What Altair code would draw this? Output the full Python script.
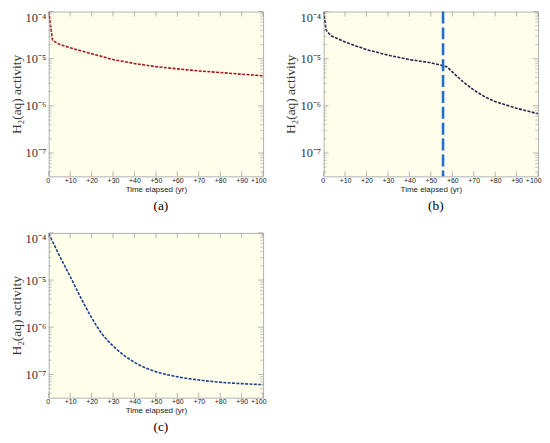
import altair as alt
import pandas as pd

# panel (a)
t_a = [0, 1.8, 5, 10, 15, 20, 30, 40, 50, 60, 70, 80, 90, 100]
h2_a = [1.0e-4, 2.46e-5, 2.02e-5, 1.71e-5, 1.47e-5, 1.28e-5, 9.6e-6, 7.9e-6,
        6.8e-6, 6.1e-6, 5.5e-6, 5.1e-6, 4.7e-6, 4.35e-6]

# panel (b)
t_b = [0, 1.2, 3.3, 10, 20, 30, 40, 50, 55.7, 57.6, 60, 65, 70, 75, 80, 90, 100]
h2_b = [1.0e-4, 4.0e-5, 3.1e-5, 2.26e-5, 1.56e-5, 1.19e-5, 9.6e-6, 8.2e-6,
        7.1e-6, 6.7e-6, 5.27e-6, 3.25e-6, 2.17e-6, 1.57e-6, 1.23e-6, 8.9e-7, 6.8e-7]
event_t = [55.7]

# panel (c)
t_c = [0, 5, 10, 15, 20, 25, 30, 35, 40, 45, 50, 60, 70, 80, 90, 100]
h2_c = [9.7e-5, 3.3e-5, 1.2e-5, 4.2e-6, 1.6e-6, 7.1e-7, 4.0e-7, 2.56e-7,
        1.8e-7, 1.38e-7, 1.14e-7, 8.9e-8, 7.6e-8, 6.8e-8, 6.35e-8, 6.05e-8]

x_ticks = [0, 10, 20, 30, 40, 50, 60, 70, 80, 90, 100]
decades = [1e-4, 1e-5, 1e-6, 1e-7]
y_domain = [3.2e-8, 1e-4]
minor_ticks = [m * d for d in [1e-5, 1e-6, 1e-7, 1e-8] for m in range(2, 10)
               if m * d > y_domain[0]]

W, H = 216, 166
TICK = "#a0a0a0"
SERIF = "Liberation Serif, Times New Roman, serif"
SANS = "Liberation Sans, Arial, sans-serif"

y_labels = ("'10' + (datum.value > 5e-5 ? '⁻⁴' : datum.value > 5e-6 ? '⁻⁵'"
            " : datum.value > 5e-7 ? '⁻⁶' : '⁻⁷')")

x_enc = alt.X(
    "t:Q",
    scale=alt.Scale(domain=[0, 100], nice=False),
    axis=alt.Axis(
        values=x_ticks,
        labelExpr="datum.value == 0 ? '0' : '+' + datum.value",
        ticks=False, tickSize=0, domain=False, grid=False,
        labelFont=SANS, labelFontSize=7, labelColor="#1a1a1a",
        labelPadding=0, labelFlush=True, labelFlushOffset=3, labelOverlap=False,
        title="Time elapsed (yr)", titleFont=SANS, titleFontSize=8,
        titleFontWeight="normal", titleColor="#1a1a1a", titlePadding=2,
    ),
)
y_enc = alt.Y(
    "h2:Q",
    scale=alt.Scale(type="log", domain=y_domain, nice=False),
    axis=alt.Axis(
        values=decades, labelExpr=y_labels,
        ticks=False, tickSize=0, domain=False, grid=False,
        labelFont=SERIF, labelFontSize=12.5, labelColor="#333",
        labelPadding=3, labelFlush=True,
        title="H₂(aq) activity", titleFont=SERIF, titleFontSize=13.5,
        titleFontWeight="normal", titleColor="#333", titlePadding=2,
    ),
)


def panel(t, h2, color, caption, extra=None, interp="linear"):
    df = pd.DataFrame({"t": t, "h2": h2})
    line = alt.Chart(df).mark_line(
        color=color, strokeWidth=1.6, strokeDash=[3, 1.4], clip=True,
        interpolate=interp,
    ).encode(x=x_enc, y=y_enc)

    xt = alt.Chart(pd.DataFrame({"t": x_ticks}))
    yt = alt.Chart(pd.DataFrame({"h2": decades}))
    ym = alt.Chart(pd.DataFrame({"h2": minor_ticks}))
    ticks = [
        xt.mark_rule(color=TICK, strokeWidth=0.8).encode(x=x_enc, y=alt.value(H), y2=alt.value(H - 5)),
        xt.mark_rule(color=TICK, strokeWidth=0.8).encode(x=x_enc, y=alt.value(0), y2=alt.value(5)),
        yt.mark_rule(color=TICK, strokeWidth=0.8).encode(y=y_enc, x=alt.value(0), x2=alt.value(5)),
        yt.mark_rule(color=TICK, strokeWidth=0.8).encode(y=y_enc, x=alt.value(W), x2=alt.value(W - 5)),
        ym.mark_rule(color=TICK, strokeWidth=0.6).encode(y=y_enc, x=alt.value(0), x2=alt.value(3)),
        ym.mark_rule(color=TICK, strokeWidth=0.6).encode(y=y_enc, x=alt.value(W), x2=alt.value(W - 3)),
    ]
    layers = [line] + ticks
    if extra is not None:
        layers.append(extra)
    return alt.layer(*layers).properties(
        width=W,
        height=H,
        title=alt.TitleParams(
            caption, orient="bottom", font=SERIF, fontSize=13.5,
            fontWeight="normal", color="black", offset=6,
            anchor="middle", frame="group", dx=5,
        ),
    )


event_rule = alt.Chart(pd.DataFrame({"t": event_t})).mark_rule(
    color="#1f6fd0", strokeWidth=2.6, strokeDash=[12, 4]
).encode(x=x_enc)

pa = panel(t_a, h2_a, "#a8141a", "(a)")
pb = panel(t_b, h2_b, "#27244f", "(b)", extra=event_rule)
pc = panel(t_c, h2_c, "#173f8c", "(c)", interp="monotone")

top = alt.hconcat(pa, pb, spacing=16)
chart = (
    alt.vconcat(top, pc, spacing=19)
    .properties(padding=0)
    .configure_view(fill="#fffeea", stroke="#b0b0b0", strokeWidth=1)
)

chart.save("out.html", embed_options={"renderer": "svg", "actions": False})
